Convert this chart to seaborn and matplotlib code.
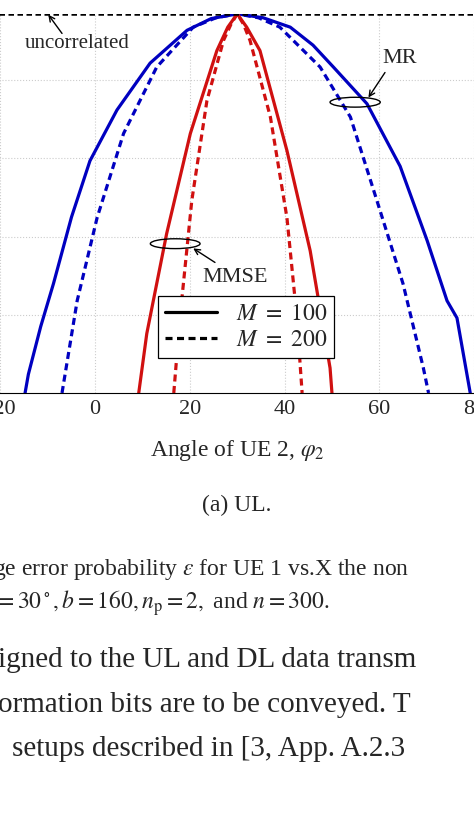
import numpy as np
import pandas as pd
import seaborn as sns
import matplotlib.pyplot as plt
from matplotlib.patches import Ellipse
from matplotlib.lines import Line2D

# values (angle in degrees, log10 of error probability)
mr100_x = [-14.8, -14.1, -11.5, -8.8, -5.0, -1.1, 4.6, 11.6, 19.4, 24.5, 30.0, 35.5, 41.2, 46.0, 50.3, 57.4, 64.4, 70.1, 74.3, 76.4, 79.2]
mr100_y = [-5.0, -4.76, -4.15, -3.6, -2.75, -2.03, -1.38, -0.78, -0.36, -0.21, -0.15, -0.2, -0.32, -0.55, -0.83, -1.3, -2.1, -3.05, -3.82, -4.04, -5.0]
mr200_x = [-7.0, -3.8, 0.4, 6.0, 13.0, 20.7, 25.5, 30.0, 34.5, 39.0, 47.5, 53.9, 59.5, 65.0, 69.3, 70.4]
mr200_y = [-5.0, -3.82, -2.76, -1.68, -0.83, -0.32, -0.2, -0.15, -0.2, -0.32, -0.83, -1.47, -2.54, -3.6, -4.68, -5.0]
mmse100_x = [9.2, 10.9, 15.1, 20.1, 25.7, 28.0, 30.0, 32.0, 34.8, 40.5, 45.4, 49.6, 50.0]
mmse100_y = [-5.0, -4.24, -2.96, -1.68, -0.62, -0.32, -0.15, -0.32, -0.62, -1.9, -3.18, -4.68, -5.0]
mmse200_x = [16.6, 17.9, 20.4, 23.6, 27.1, 28.7, 30.0, 31.3, 32.7, 37.0, 40.5, 42.6, 43.7]
mmse200_y = [-5.0, -4.04, -2.54, -1.26, -0.49, -0.28, -0.15, -0.28, -0.49, -1.47, -2.76, -4.04, -5.0]
uncorr_level = -0.15
xticks = [-20, 0, 20, 40, 60, 80]

sns.set_style("white")
plt.rcParams['font.family'] = ['Liberation Serif', 'DejaVu Serif']
plt.rcParams['mathtext.fontset'] = 'stix'

frames = []
for name, xs, ys, m in [("MR", mr100_x, mr100_y, 100), ("MR", mr200_x, mr200_y, 200),
                        ("MMSE", mmse100_x, mmse100_y, 100), ("MMSE", mmse200_x, mmse200_y, 200)]:
    frames.append(pd.DataFrame({"angle": xs, "eps": 10.0 ** np.array(ys), "scheme": name, "M": m}))
df = pd.concat(frames, ignore_index=True)

fig = plt.figure(figsize=(4.74, 8.17), dpi=100)
ax = fig.add_axes([-0.049, 0.519, 1.099, 0.464])
ax.set_yscale('log')

sns.lineplot(data=df, x="angle", y="eps", hue="scheme", style="M", units="M", estimator=None,
             palette={"MR": "#0000c0", "MMSE": "#d01010"}, dashes={100: "", 200: (2.2, 1.4)},
             sort=False, lw=2.3, legend=False, ax=ax)
ax.axhline(10 ** uncorr_level, color='black', ls=(0, (2.2, 1.4)), lw=1.8)

ax.set_xlim(-25, 85)
ax.set_ylim(1e-5, 10 ** uncorr_level)
ax.set_xticks(xticks)
ax.set_xticklabels([str(t) for t in xticks], fontsize=16)
ax.set_yticks([1e-4, 1e-3, 1e-2, 1e-1])
ax.set_yticklabels([])
ax.yaxis.set_minor_locator(plt.NullLocator())
ax.grid(True, ls=':', color='#cccccc', lw=0.8)
for s in ['top', 'left', 'right']:
    ax.spines[s].set_visible(False)
ax.spines['bottom'].set_color('black')
ax.tick_params(axis='x', length=0, pad=5)
ax.set_xlabel(r"Angle of UE 2, $\varphi_2$", fontsize=17, labelpad=14)
ax.set_ylabel("")

arrow = dict(arrowstyle='->', lw=1.0, color='black', shrinkA=0, shrinkB=0)
ax.text(-3.8, 10 ** -0.53, "uncorrelated", fontsize=15, ha='center', va='center')
ax.annotate("", xy=(-9.9, 10 ** -0.16), xytext=(-7, 10 ** -0.40), arrowprops=arrow, zorder=5)
ax.text(64.4, 10 ** -0.72, "MR", fontsize=16, ha='center', va='center')
ax.annotate("", xy=(57.7, 10 ** -1.22), xytext=(61.2, 10 ** -0.9), arrowprops=arrow, zorder=5)
ax.text(29.5, 10 ** -3.52, "MMSE", fontsize=16, ha='center', va='center')
ax.annotate("", xy=(20.7, 10 ** -3.15), xytext=(25.3, 10 ** -3.33), arrowprops=arrow, zorder=5)

# ellipses drawn in axes fraction so they keep their shape on log scale
def ell(xc, lc, w):
    yf = (lc + 5) / (uncorr_level + 5)
    xf = (xc + 25) / 110
    ax.add_patch(Ellipse((xf, yf), w / 110, 0.026, transform=ax.transAxes,
                         fill=False, lw=1.0, color='black', zorder=5))
ell(54.9, -1.28, 10.6)
ell(16.9, -3.09, 10.5)

handles = [Line2D([], [], color='black', lw=2.3),
           Line2D([], [], color='black', lw=2.3, ls=(0, (2.2, 1.4)))]
leg = ax.legend(handles, [r"$M\ =\ 100$", r"$M\ =\ 200$"], loc='lower left',
                bbox_to_anchor=(0.325, 0.06), fontsize=17, frameon=True, fancybox=False,
                edgecolor='black', framealpha=1, handlelength=2.2, borderpad=0.3,
                labelspacing=0.2)
leg.get_frame().set_linewidth(0.9)

fig.text(0.5, 1 - 505 / 817, "(a) UL.", fontsize=17, ha='center', va='center')
fig.text(-0.014, 1 - 570 / 817, r"ge error probability $\epsilon$ for UE 1 vs.X the non",
         fontsize=17, ha='left', va='center')
fig.text(-0.012, 1 - 603 / 817, r"$=30^\circ, b=160, n_{\rm p}=2,$ and $n=300$.",
         fontsize=17, ha='left', va='center')
fig.text(-0.005, 1 - 660 / 817, "igned to the UL and DL data transm", fontsize=21, ha='left', va='center')
fig.text(-0.005, 1 - 705 / 817, "ormation bits are to be conveyed. T", fontsize=21, ha='left', va='center')
fig.text(0.025, 1 - 749 / 817, "setups described in [3, App. A.2.3", fontsize=21, ha='left', va='center')

fig.savefig("out.png", dpi=100)
